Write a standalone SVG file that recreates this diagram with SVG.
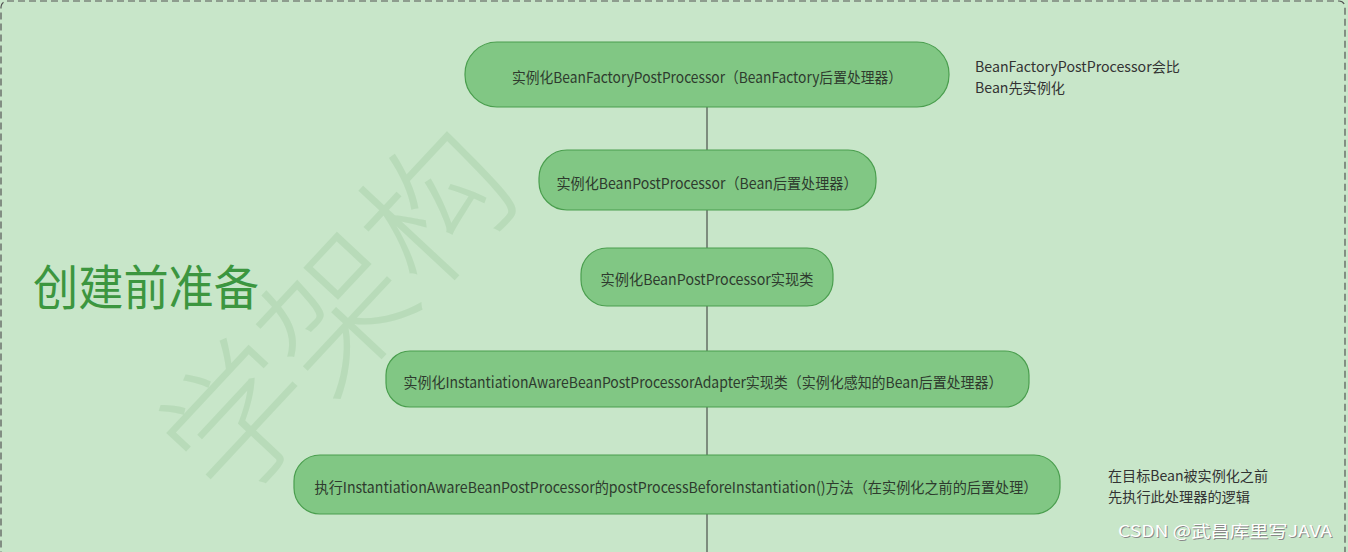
<svg xmlns="http://www.w3.org/2000/svg" width="1348" height="552" viewBox="0 0 1348 552">
<style>
.node rect{fill:#81c784;stroke:#4a9e4e;stroke-width:1.2}
.node text{font-family:"Microsoft YaHei","Noto Sans CJK SC",sans-serif;font-size:15px;fill:#2e3b2e;text-anchor:middle;dominant-baseline:central}
.note{font-family:"Microsoft YaHei","Noto Sans CJK SC",sans-serif;font-size:14px;fill:#333}
.wm{font-family:"Noto Sans CJK SC",sans-serif;font-size:145px;fill:#a9d1aa;opacity:0.5;font-weight:300}
</style>
<rect x="0" y="0" width="1348" height="552" fill="#c8e6c9"/>
<rect x="1" y="1" width="1344" height="570" rx="6" fill="none" stroke="#555" stroke-width="1.2" stroke-dasharray="7 4"/>
<g id="watermark">
<text class="wm" transform="translate(228,508) rotate(-47)">学架构</text>
</g>
<g id="title">
<text x="33" y="305" font-family="Microsoft YaHei,'Noto Sans CJK SC',sans-serif" font-size="48" fill="#3c963f" textLength="226" lengthAdjust="spacingAndGlyphs">创建前准备</text>
</g>
<g id="connectors">
<line x1="707" y1="107" x2="707" y2="552" stroke="#333" stroke-width="1"/>
</g>
<g id="n1" class="node">
<rect x="465" y="42" width="484" height="65" rx="32"/>
<text x="707" y="76" textLength="390" lengthAdjust="spacingAndGlyphs">实例化BeanFactoryPostProcessor（BeanFactory后置处理器）</text>
</g>
<g id="n2" class="node">
<rect x="539" y="150" width="337" height="60" rx="28"/>
<text x="707" y="182" textLength="301" lengthAdjust="spacingAndGlyphs">实例化BeanPostProcessor（Bean后置处理器）</text>
</g>
<g id="n3" class="node">
<rect x="581" y="248" width="252" height="58" rx="26"/>
<text x="707" y="278" textLength="213" lengthAdjust="spacingAndGlyphs">实例化BeanPostProcessor实现类</text>
</g>
<g id="n4" class="node">
<rect x="386" y="351" width="643" height="56" rx="24"/>
<text x="703" y="381" textLength="599" lengthAdjust="spacingAndGlyphs">实例化InstantiationAwareBeanPostProcessorAdapter实现类（实例化感知的Bean后置处理器）</text>
</g>
<g id="n5" class="node">
<rect x="294" y="455" width="766" height="59" rx="26"/>
<text x="676" y="486" textLength="723" lengthAdjust="spacingAndGlyphs">执行InstantiationAwareBeanPostProcessor的postProcessBeforeInstantiation()方法（在实例化之前的后置处理）</text>
</g>
<g id="note1">
<text class="note" x="975" y="72" textLength="205" lengthAdjust="spacingAndGlyphs">BeanFactoryPostProcessor会比</text>
<text class="note" x="975" y="93" textLength="90" lengthAdjust="spacingAndGlyphs">Bean先实例化</text>
</g>
<g id="note2">
<text class="note" x="1108" y="481" textLength="160" lengthAdjust="spacingAndGlyphs">在目标Bean被实例化之前</text>
<text class="note" x="1108" y="502" textLength="142" lengthAdjust="spacingAndGlyphs">先执行此处理器的逻辑</text>
</g>
<g id="credit">
<text x="1119" y="538" font-family="'Noto Sans CJK SC',sans-serif" font-size="16" fill="#888" textLength="214" lengthAdjust="spacingAndGlyphs">CSDN @武昌库里写JAVA</text>
<text x="1118" y="537" font-family="'Noto Sans CJK SC',sans-serif" font-size="16" fill="#fff" textLength="214" lengthAdjust="spacingAndGlyphs">CSDN @武昌库里写JAVA</text>
</g>
</svg>
